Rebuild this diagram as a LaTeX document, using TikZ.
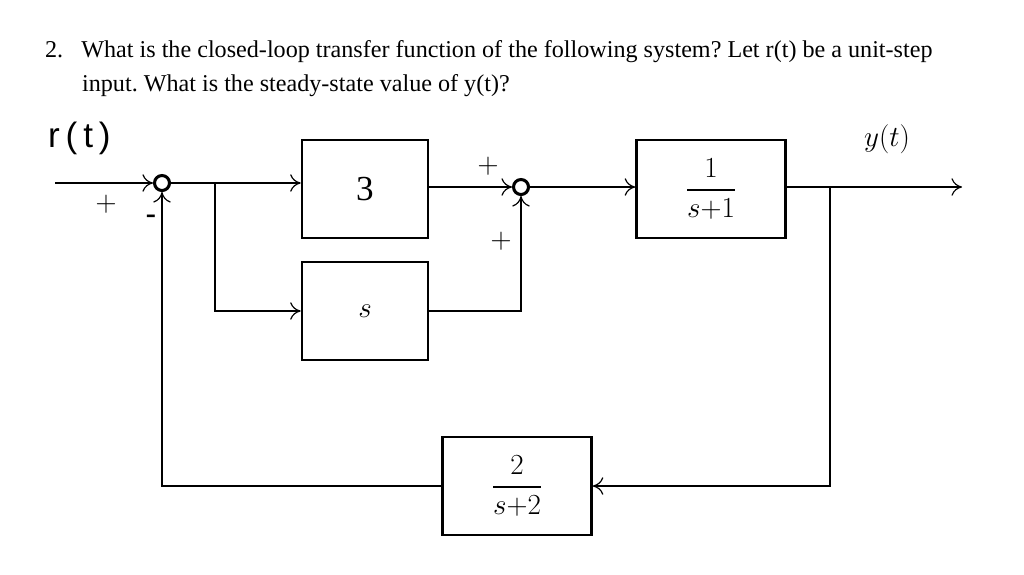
\documentclass[tikz,border=0pt]{standalone}
\usepackage{amsmath}
\usepackage{fontspec}
\setmainfont{Liberation Serif}
\newfontfamily\rtfont{Liberation Sans}
\usetikzlibrary{arrows.meta}
\frenchspacing
\begin{document}
\begin{tikzpicture}[x=0.03cm,y=-0.03cm,
  blk/.style={draw,line width=2.2pt,minimum width=126*0.03cm,minimum height=98*0.03cm,font=\fontsize{30}{34}\selectfont},
  sumj/.style={draw,circle,line width=2.6pt,inner sep=0pt,minimum width=11*0.03cm,minimum height=15*0.03cm},
  sig/.style={line width=1pt},
  arr/.style={sig,-{To[length=9pt,width=15pt]}},
  pm/.style={font=\fontsize{28}{28}\selectfont}]
\useasboundingbox (0,0) rectangle (1024,574);
\node[anchor=west,font=\fontsize{20.6}{24}\selectfont] (l1) at (41,52) {2.\hspace{0.75em}What is the closed-loop transfer function of the following system? Let r(t) be a unit-step};
\node[anchor=west,font=\fontsize{20.6}{24}\selectfont] (l2) at (78,86) {input. What is the steady-state value of y(t)?};
\node[anchor=west,font=\rtfont\fontsize{30}{34}\selectfont] (rt) at (44,138) {r\,(\,t\,)};
\node[anchor=west,font=\fontsize{40}{44}\selectfont] (yt) at (860,139) {$y(t)$};
\node[sumj] (s1) at (162,183) {};
\node[sumj] (s2) at (521,187) {};
\node[blk] (b3) at (365,189) {3};
\node[blk] (bs) at (365,311) {$s$};
\node[blk,minimum width=149*0.03cm,font=\fontsize{26}{30}\selectfont] (bg) at (711,189) {$\dfrac{1}{s{+}1}$};
\node[blk,minimum width=149*0.03cm,font=\fontsize{26}{30}\selectfont] (bh) at (517,486) {$\dfrac{2}{s{+}2}$};
\coordinate (in) at (55,183);
\coordinate (out) at (962,187);
\coordinate (br1) at (215,183);
\coordinate (br2) at (830,187);
\draw[arr] (in) -- (s1);
\draw[sig] (s1) -- (br1);
\draw[arr] (br1) -- (b3.west |- br1);
\draw[arr] (br1) |- (bs.west);
\draw[arr] (b3.east |- s2) -- (s2);
\draw[arr] (bs.east) -| (s2);
\draw[arr] (s2) -- (bg.west |- s2);
\draw[arr] (bg.east |- out) -- (out);
\draw[arr] (br2) |- (bh.east);
\draw[arr] (bh.west) -| (s1);
\node[pm] (p1) at (106,204) {$+$};
\node[font=\bfseries\fontsize{26}{26}\selectfont] (m1) at (151,219) {-};
\node[pm] (p2) at (488,166) {$+$};
\node[pm] (p3) at (501,241) {$+$};
\end{tikzpicture}
\end{document}
